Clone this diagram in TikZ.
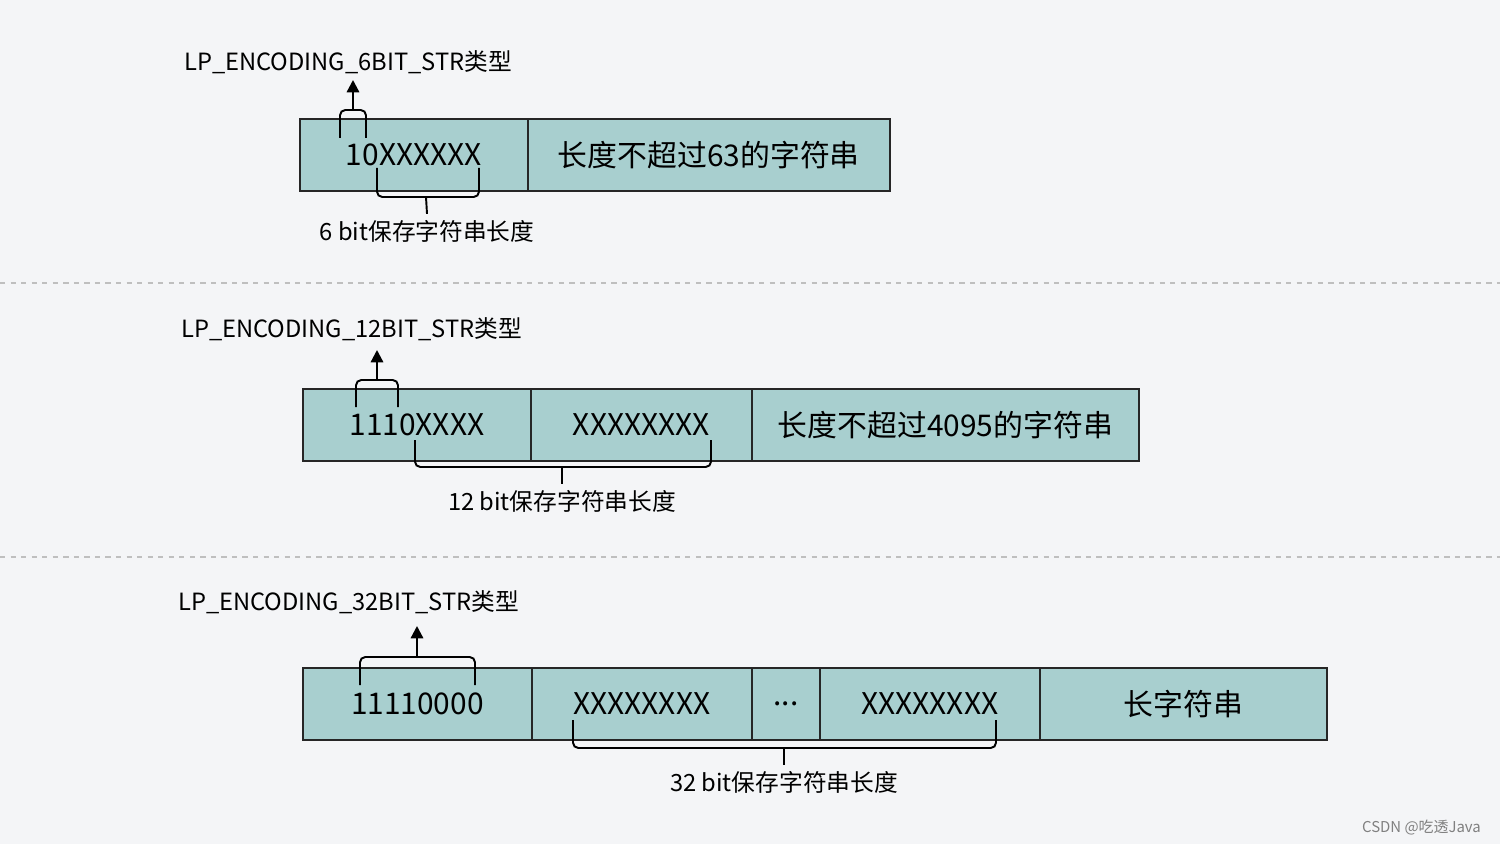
\documentclass[tikz,border=0pt]{standalone}
\usepackage{fontspec}
\setmainfont{Noto Sans CJK SC}
\usetikzlibrary{arrows.meta}
\definecolor{bg}{HTML}{F4F5F7}
\definecolor{cellc}{HTML}{A8CFCF}
\begin{document}
\begin{tikzpicture}[x=0.02cm,y=-0.02cm,
 cell/.style={draw=black!85,line width=1pt,fill=cellc,minimum height=1.44cm,inner sep=0pt,anchor=north west,font=\fontsize{17}{20}\selectfont},
 ttl/.style={anchor=west,font=\fontsize{13.5}{16}\selectfont},
 lbl/.style={font=\fontsize{13.5}{16}\selectfont},
 br/.style={line width=1.1pt,rounded corners=3pt},
 arr/.style={line width=1.3pt,-{Triangle[length=7pt,width=7pt]}}]
\fill[bg] (0,0) rectangle (1500,844);
\useasboundingbox (0,0) rectangle (1500,844);
\draw[gray!50,dashed,line width=0.8pt] (0,283) -- (1500,283);
\draw[gray!50,dashed,line width=0.8pt] (0,557) -- (1500,557);
% section 1
\node[ttl] (t1) at (178,62) {LP\_ENCODING\_6BIT\_STR类型};
\node[cell,minimum width=4.56cm] (a1) at (299,118) {10XXXXXX};
\node[cell,minimum width=7.24cm] (a2) at (527,118) {长度不超过63的字符串};
\draw[br] (340,138) |- (353,110) -| (366,138);
\coordinate (s1) at (353,110);
\draw[arr] (s1) -- (353,80);
\draw[br] (377,168) |- (426,197) -| (479,168);
\node[lbl] (l1) at (427,231) {6 bit保存字符串长度};
\draw[br] (426,197) -- (l1.north);
% section 2
\node[ttl] (t2) at (175,329) {LP\_ENCODING\_12BIT\_STR类型};
\node[cell,minimum width=4.56cm] (b1) at (302,388) {1110XXXX};
\node[cell,minimum width=4.42cm] (b2) at (530,388) {XXXXXXXX};
\node[cell,minimum width=7.74cm] (b3) at (751,388) {长度不超过4095的字符串};
\draw[br] (356,407) |- (377,380) -| (398,407);
\coordinate (s2) at (377,380);
\draw[arr] (s2) -- (377,350);
\draw[br] (415,440) |- (562,467) -| (711,440);
\node[lbl] (l2) at (562,501) {12 bit保存字符串长度};
\draw[br] (562,467) -- (l2.north);
% section 3
\node[ttl] (t3) at (172,602) {LP\_ENCODING\_32BIT\_STR类型};
\node[cell,minimum width=4.58cm] (c1) at (302,667) {11110000};
\node[cell,minimum width=4.4cm] (c2) at (531,667) {XXXXXXXX};
\node[cell,minimum width=1.36cm] (c3) at (751,667) {...};
\node[cell,minimum width=4.4cm] (c4) at (819,667) {XXXXXXXX};
\node[cell,minimum width=5.74cm] (c5) at (1039,667) {长字符串};
\draw[br] (360,685) |- (417,657) -| (475,685);
\coordinate (s3) at (417,657);
\draw[arr] (s3) -- (417,626);
\draw[br] (573,720) |- (784,748) -| (996,720);
\node[lbl] (l3) at (784,782) {32 bit保存字符串长度};
\draw[br] (784,748) -- (l3.north);
\node[anchor=east,text=gray,font=\fontsize{8.5}{10}\selectfont] (wm) at (1487,828) {CSDN @吃透Java};
\end{tikzpicture}
\end{document}
